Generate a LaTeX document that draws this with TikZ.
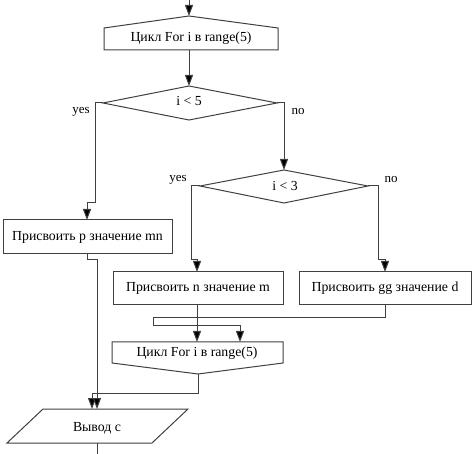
\documentclass[tikz,border=0pt]{standalone}
\usepackage{fontspec}
\setmainfont{Liberation Serif}
\usetikzlibrary{arrows.meta}
\definecolor{linec}{HTML}{404040}
\begin{document}
\begin{tikzpicture}[x=1pt,y=-1pt,
  shapeline/.style={draw=linec, line width=1pt, line join=miter},
  flow/.style={draw=linec, line width=1pt},
  arr/.style={flow, -{Triangle[length=11pt,width=8pt,fill=black]}},
  txt/.style={inner sep=0pt, font=\fontsize{13.8}{16}\selectfont},
  lbl/.style={inner sep=0pt, font=\fontsize{13}{15}\selectfont}]
\useasboundingbox (0,0) rectangle (474,454);
\fill[white] (0,0) rectangle (474,454);

% ---- shapes ----
% loop start
\coordinate (start) at (189,0);
\coordinate (l1peak) at (189,16);
\coordinate (l1bot) at (189,50);
\draw[shapeline] (104,50) -- (104,28) -- (l1peak) -- (278,28) -- (278,50) -- cycle;
\node[txt] (loop1) at (191,38) {Цикл For i в range(5)};

% diamond i<5
\coordinate (d1t) at (189,86);
\coordinate (d1l) at (103,103);
\coordinate (d1r) at (277,103);
\draw[shapeline] (d1t) -- (d1r) -- (189,120) -- (d1l) -- cycle;
\node[txt] (cond1) at (189,101) {i < 5};
\node[lbl] (yes1) at (81,112) {yes};
\node[lbl] (no1) at (298,112) {no};

% box p
\node[txt, draw=linec, line width=1pt, minimum width=169pt, minimum height=34pt, inner sep=0pt]
  (boxp) at (87.5,237) {Присвоить p значение mn};

% diamond i<3
\coordinate (d2t) at (284,170);
\coordinate (d2l) at (200,186);
\coordinate (d2r) at (368,186);
\draw[shapeline] (d2t) -- (d2r) -- (284,203) -- (d2l) -- cycle;
\node[txt] (cond2) at (285,186) {i < 3};
\node[lbl] (yes2) at (178,180) {yes};
\node[lbl] (no2) at (391,180) {no};

% boxes n and gg
\node[txt, draw=linec, line width=1pt, minimum width=170pt, minimum height=33pt, inner sep=0pt]
  (boxn) at (198,288.5) {Присвоить n значение m};
\node[txt, draw=linec, line width=1pt, minimum width=172pt, minimum height=33pt, inner sep=0pt]
  (boxg) at (385,288.5) {Присвоить gg значение d};

% loop end
\coordinate (l2top) at (198,342);
\coordinate (l2bot) at (198,374);
\draw[shapeline] (112,342) -- (283,342) -- (283,363) -- (l2bot) -- (112,363) -- cycle;
\node[txt] (loop2) at (197,353) {Цикл For i в range(5)};

% output parallelogram
\coordinate (outtop) at (97,409);
\coordinate (outbot) at (97,443);
\coordinate (endpt) at (97,454);
\draw[shapeline] (43,409) -- (188,409) -- (152,443) -- (7,443) -- cycle;
\node[txt] (out) at (97,428) {Вывод c};

% ---- connectors ----
\draw[arr] (start) -- (l1peak);
\draw[arr] (l1bot) -- (d1t);
% yes i<5
\draw[arr] (d1l) -- (95,103) -- (95,203) -- (87,203) -- (87,220);
% no i<5
\draw[arr] (d1r) -- (284,103) -- (d2t);
% yes i<3
\draw[arr] (d2l) -- (191,186) -- (191,260) -- (197,260) -- (197,272);
% no i<3
\draw[arr] (d2r) -- (378,186) -- (378,260) -- (385,260) -- (385,272);
% from n
\draw[arr] (197,305) -- (197,342);
% from gg
\draw[arr] (385,305) -- (385,318) -- (153,318) -- (153,326) -- (240,326) -- (240,342);
% from loop end
\draw[arr] (l2bot) -- (198,393) -- (92,393) -- (92,409);
% from p
\draw[arr] (87,254) -- (87,260) -- (97,260) -- (97,409);
% exit
\draw[flow] (outbot) -- (endpt);
\end{tikzpicture}
\end{document}
